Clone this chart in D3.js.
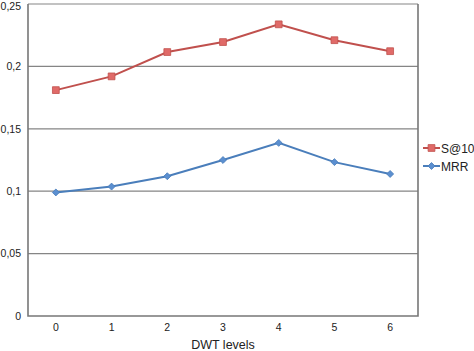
<!DOCTYPE html>
<html><head><meta charset="utf-8">
<script src="https://cdn.jsdelivr.net/npm/d3@7"></script>
<style>body{margin:0;background:#fff}svg{display:block}text{font-family:"Liberation Sans",Arial,sans-serif}</style>
</head><body>
<script>
const categories = ["0","1","2","3","4","5","6"];
const s10 = [0.181, 0.192, 0.2115, 0.2195, 0.2337, 0.221, 0.2122];
const mrr = [0.099, 0.1037, 0.112, 0.125, 0.1387, 0.1233, 0.1138];
const yTicks = [0, 0.05, 0.1, 0.15, 0.2, 0.25];
const yTickLabels = ["0", "0,05", "0,1", "0,15", "0,2", "0,25"];
const seriesNames = ["S@10", "MRR"];

const W = 474, H = 351;
const m = {left: 28, right: 56, top: 4, bottom: 35};
const svg = d3.select("body").append("svg").attr("width", W).attr("height", H);
const x = d3.scaleBand().domain(categories).range([m.left, W - m.right]);
const y = d3.scaleLinear().domain([0, 0.25]).range([H - m.bottom, m.top]);

// gridlines
svg.append("g").selectAll("line").data(yTicks.filter(d => d > 0)).join("line")
  .attr("x1", m.left).attr("x2", W - m.right)
  .attr("y1", d => y(d)).attr("y2", d => y(d))
  .attr("stroke", "#858585").attr("stroke-width", 1.2);

// y axis
const yAxis = d3.axisLeft(y).tickValues(yTicks).tickSize(0).tickPadding(7)
  .tickFormat((d, i) => yTickLabels[i]);
const gy = svg.append("g").attr("transform", `translate(${m.left},0)`).call(yAxis);
gy.select(".domain").remove();
gy.selectAll("text").attr("font-size", 10.5).attr("fill", "#222");
gy.selectAll(".tick").filter(d => d === 0.25).select("text").attr("dy", "0.5em");

// x axis
const xAxis = d3.axisBottom(x).tickSize(0).tickPadding(8);
const gx = svg.append("g").attr("transform", `translate(0,${H - m.bottom})`).call(xAxis);
gx.select(".domain").remove();
gx.selectAll("text").attr("font-size", 10.5).attr("fill", "#222");

// plot frame: left, bottom, right
const fr = svg.append("g").attr("stroke", "#777").attr("stroke-width", 1.6).attr("fill", "none");
fr.append("path").attr("d", `M${m.left},${m.top}V${H - m.bottom}H${W - m.right}V${m.top}`);

svg.append("text").attr("x", (m.left + W - m.right) / 2).attr("y", 349)
  .attr("text-anchor", "middle").attr("font-size", 12.5).attr("fill", "#222").text("DWT levels");

const cx = (d, i) => x(categories[i]) + x.bandwidth() / 2;
const line = d3.line().x(cx).y(d => y(d));

const red = "#c0504d", redFill = "#e06a68", blue = "#4a7ebb", blueFill = "#5b8fd0";

svg.append("path").datum(s10).attr("d", line).attr("fill", "none").attr("stroke", red).attr("stroke-width", 2);
svg.append("path").datum(mrr).attr("d", line).attr("fill", "none").attr("stroke", blue).attr("stroke-width", 2);

const sq = d3.symbol().type(d3.symbolSquare).size(46);
const dm = d3.symbol().type(d3.symbolSquare).size(24);
svg.append("g").selectAll("path").data(s10).join("path")
  .attr("transform", (d, i) => `translate(${cx(d, i)},${y(d)})`)
  .attr("d", sq).attr("fill", redFill).attr("stroke", red).attr("stroke-width", 0.8);
svg.append("g").selectAll("path").data(mrr).join("path")
  .attr("transform", (d, i) => `translate(${cx(d, i)},${y(d)}) rotate(45)`)
  .attr("d", dm).attr("fill", blueFill).attr("stroke", blue).attr("stroke-width", 0.8);

// legend
const lg = svg.append("g");
const legendItems = [{name: seriesNames[0], c: red, f: redFill, s: sq, r: 0}, {name: seriesNames[1], c: blue, f: blueFill, s: dm, r: 45}];
legendItems.forEach((it, i) => {
  const yy = 148 + i * 18;
  lg.append("line").attr("x1", 423).attr("x2", 440).attr("y1", yy).attr("y2", yy).attr("stroke", it.c).attr("stroke-width", 2);
  lg.append("path").attr("transform", `translate(431.5,${yy}) rotate(${it.r})`).attr("d", it.s).attr("fill", it.f).attr("stroke", it.c).attr("stroke-width", 0.8);
  lg.append("text").attr("x", 441).attr("y", yy + 4.5).attr("font-size", 12).attr("fill", "#222").text(it.name);
});
</script>
</body></html>
